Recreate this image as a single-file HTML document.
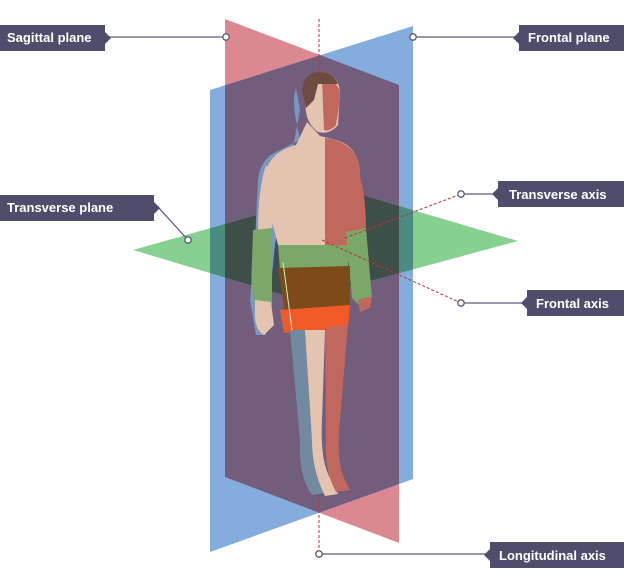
<!DOCTYPE html>
<html><head><meta charset="utf-8"><style>
html,body{margin:0;padding:0;background:#fff;}
svg{display:block;}
text{font-family:"Liberation Sans",sans-serif;font-weight:bold;font-size:13px;fill:#fff;}
</style></head><body>
<svg width="624" height="584" viewBox="0 0 624 584" xmlns="http://www.w3.org/2000/svg">
<defs>
<clipPath id="pink"><polygon points="225,19 399,85 399,543 225,477"/></clipPath>
<clipPath id="green"><polygon points="133,250 345,190 518,241 300,300"/></clipPath>
</defs>
<polygon points="225,19 399,85 399,543 225,477" fill="#dc8890"/>
<polygon points="210,90 413,26 413,479 210,552" fill="#84acdc"/>
<g clip-path="url(#pink)"><polygon points="210,90 413,26 413,479 210,552" fill="#725e7c"/></g>
<polygon points="133,250 345,190 518,241 300,300" fill="#88d090"/>
<g clip-path="url(#green)"><polygon points="210,90 413,26 413,479 210,552" fill="#4a8c80"/>
<polygon points="225,19 399,85 399,543 225,477" fill="#3e4e48"/></g>
<line x1="319" y1="19" x2="319" y2="80" stroke="#c0303c" stroke-width="1" stroke-dasharray="3,2"/>
<line x1="319" y1="490" x2="319" y2="553" stroke="#c0303c" stroke-width="1" stroke-dasharray="3,2"/>
<g>
<!-- back blue shadow -->
<path d="M296,88 Q292,100 296,120 L300,140 L280,150 Q260,158 258,180 L255,240 L250,300 L256,335 L266,335 L275,245 L300,110 Z" fill="#7898c0"/>
<!-- head -->
<path d="M304,88 Q308,72 322,72 Q340,74 340,95 L338,125 Q330,135 318,132 Q308,125 306,112 Z" fill="#e4c4b0"/>
<path d="M322,80 Q342,80 340,100 L336,125 Q330,132 324,130 Z" fill="#c0685e"/>
<path d="M302,90 Q305,70 322,72 Q334,73 338,84 L318,84 L314,100 L306,108 Z" fill="#6e4c40"/>
<!-- torso -->
<path d="M307,122 L320,136 L336,140 Q358,146 360,172 L356,245 L278,245 Q266,200 266,172 Q270,152 296,145 Z" fill="#e4c4b0"/>
<path d="M325,138 Q358,142 360,172 L356,245 L325,245 Z" fill="#c0685e"/>
<!-- upper arms -->
<path d="M266,165 Q258,190 258,230 L272,230 L276,180 Z" fill="#e4c4b0"/>
<path d="M352,160 Q366,180 366,230 L348,232 L350,180 Z" fill="#c0685e"/>
<!-- lower arms green -->
<path d="M253,230 L272,228 L272,305 L256,306 Q250,290 252,260 Z" fill="#7aa868"/>
<path d="M346,232 L366,228 L372,298 L360,306 L352,298 Z" fill="#7aa868"/>
<path d="M255,300 L271,302 L274,325 L264,335 Q254,330 255,310 Z" fill="#e4c4b0"/>
<path d="M358,300 L372,296 L370,308 L360,312 Z" fill="#c0685e"/>
<!-- shorts -->
<path d="M278,245 L350,245 L348,268 L280,270 Z" fill="#7aa868"/>
<path d="M278,268 L350,266 L350,310 L285,312 Z" fill="#7d4a1a"/>
<path d="M280,310 L350,305 L348,328 L320,330 L284,333 Z" fill="#f05a28"/>
<line x1="283" y1="262" x2="292" y2="330" stroke="#c8f0c0" stroke-width="1"/>
<!-- legs -->
<path d="M290,330 L320,330 L316,420 Q314,460 322,478 L330,492 L312,495 Q298,475 300,440 Z" fill="#728aa0"/>
<path d="M305,330 L325,330 L322,420 Q320,460 330,478 L338,494 L325,496 Q312,470 312,440 Z" fill="#e4c4b0"/>
<path d="M325,328 L348,324 L340,420 Q336,460 344,478 L350,490 L336,492 Q324,470 326,440 Z" fill="#c0685e"/>
</g>
<line x1="345" y1="238" x2="461" y2="194" stroke="#c0303c" stroke-width="1" stroke-dasharray="3,2"/>
<line x1="322" y1="240" x2="461" y2="303" stroke="#c0303c" stroke-width="1" stroke-dasharray="3,2"/>
<g stroke="#5a5a7a" stroke-width="1.3" fill="none">
<line x1="105" y1="37" x2="225" y2="37"/>
<line x1="413" y1="37" x2="519" y2="37"/>
<polyline points="154,207 158,207 188,240"/>
<line x1="461" y1="194" x2="498" y2="194"/>
<line x1="461" y1="303" x2="527" y2="303"/>
<line x1="319" y1="554" x2="490" y2="554"/>
</g>
<g fill="#fff" stroke="#5a5a7a" stroke-width="1.3">
<circle cx="226" cy="37" r="3.2"/><circle cx="413" cy="37" r="3.2"/>
<circle cx="188" cy="240" r="3.2"/><circle cx="461" cy="194" r="3.2"/>
<circle cx="461" cy="303" r="3.2"/><circle cx="319" cy="554" r="3.2"/>
</g>
<g fill="#4f4d6c">
<rect x="0" y="25" width="105" height="26"/><polygon points="105,32 111,38 105,44"/>
<rect x="519" y="25" width="105" height="26"/><polygon points="519,32 513,38 519,44"/>
<rect x="0" y="195" width="154" height="26"/><polygon points="154,202 160,208 154,214"/>
<rect x="498" y="181" width="126" height="26"/><polygon points="498,188 492,194 498,200"/>
<rect x="527" y="290" width="97" height="26"/><polygon points="527,297 521,303 527,309"/>
<rect x="490" y="542" width="134" height="26"/><polygon points="490,549 484,555 490,561"/>
</g>
<text x="7" y="42">Sagittal plane</text>
<text x="528" y="42">Frontal plane</text>
<text x="7" y="212">Transverse plane</text>
<text x="509" y="199">Transverse axis</text>
<text x="536" y="308">Frontal axis</text>
<text x="499" y="560">Longitudinal axis</text>
</svg>
</body></html>
